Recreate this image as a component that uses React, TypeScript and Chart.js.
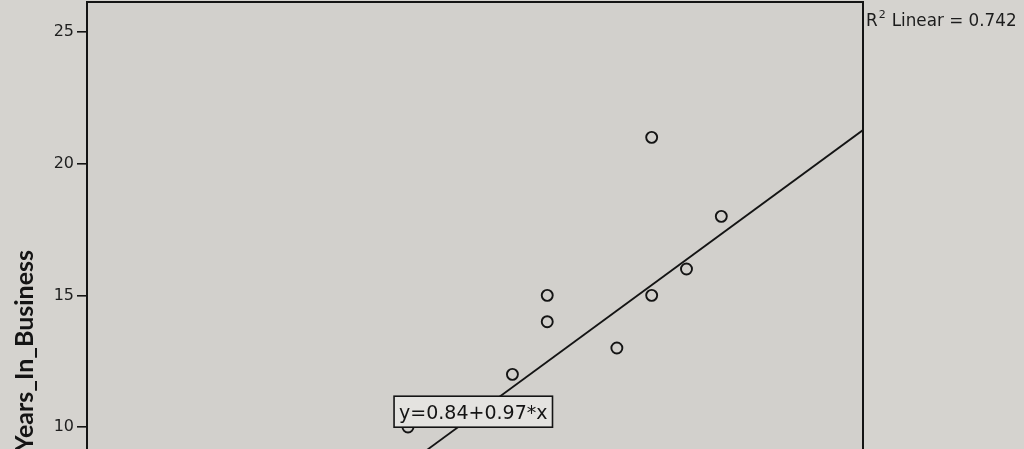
import React, { useEffect, useRef } from "react";
import { Chart, registerables } from "chart.js";

Chart.register(...registerables);

// Observed points (x, Years_In_Business)
const xValues = [8, 11, 12, 12, 14, 15, 15, 16, 17];
const yValues = [10, 12, 14, 15, 13, 15, 21, 16, 18];

// Linear fit shown on the chart
const intercept = 0.84;
const slope = 0.97;
const equationLabel = "y=0.84+0.97*x";
const r2Label = "Linear = 0.742";

const yTickValues = [10, 15, 20, 25];
const yAxisTitle = "Years_In_Business";

const X_MIN = -1.22;
const X_MAX = 21.07;
const Y_MIN = 9.165;
const Y_MAX = 26.14;

const PAGE_BG = "#d5d3cf";
const PLOT_BG = "#d2d0cc";
const INK = "#141414";

const decorPlugin = {
  id: "decor",
  beforeDraw(chart: any) {
    const { ctx, chartArea, width, height } = chart;
    ctx.save();
    ctx.fillStyle = PAGE_BG;
    ctx.fillRect(0, 0, width, height);
    ctx.fillStyle = PLOT_BG;
    ctx.fillRect(chartArea.left, chartArea.top, chartArea.right - chartArea.left, chartArea.bottom - chartArea.top);
    ctx.restore();
  },
  afterDatasetsDraw(chart: any) {
    const { ctx, chartArea, scales } = chart;
    ctx.save();
    // top and right frame
    ctx.strokeStyle = INK;
    ctx.lineWidth = 2;
    ctx.beginPath();
    ctx.moveTo(chartArea.left, chartArea.top);
    ctx.lineTo(chartArea.right, chartArea.top);
    ctx.lineTo(chartArea.right, chartArea.bottom);
    ctx.stroke();

    // equation box anchored in data space
    const bx = scales.x.getPixelForValue(7.6);
    const by = scales.y.getPixelForValue(11.17);
    ctx.font = "19px 'DejaVu Sans'";
    const tw = ctx.measureText(equationLabel).width;
    const bw = tw + 10;
    const bh = 31;
    ctx.fillStyle = "#e4e3e0";
    ctx.fillRect(bx, by, bw, bh);
    ctx.lineWidth = 1.6;
    ctx.strokeStyle = INK;
    ctx.strokeRect(bx, by, bw, bh);
    ctx.fillStyle = INK;
    ctx.textBaseline = "alphabetic";
    ctx.textAlign = "left";
    ctx.fillText(equationLabel, bx + 5, by + 23);

    // R² legend text
    const rx = chartArea.right + 3;
    const ry = 26;
    ctx.font = "16.8px 'DejaVu Sans'";
    ctx.fillStyle = "#1c1c1c";
    ctx.fillText("R", rx, ry);
    const rw = ctx.measureText("R").width;
    ctx.font = "11px 'DejaVu Sans'";
    ctx.fillText("2", rx + rw + 1, ry - 8);
    ctx.font = "16.8px 'DejaVu Sans'";
    ctx.fillText(r2Label, rx + rw + 14, ry);

    // y-axis title (partially off-canvas, as in the reference)
    ctx.translate(33, 250);
    ctx.rotate(-Math.PI / 2);
    ctx.font = "bold 25px Lato";
    ctx.textAlign = "right";
    ctx.fillStyle = "#141414";
    ctx.fillText(yAxisTitle, 0, 0);
    ctx.restore();
  },
};

export default function App() {
  const ref = useRef<HTMLCanvasElement | null>(null);
  useEffect(() => {
    if (!ref.current) return;
    const points = xValues.map((x, i) => ({ x, y: yValues[i] }));
    const fit = [X_MIN, X_MAX].map((x) => ({ x, y: intercept + slope * x }));
    const chart = new Chart(ref.current, {
      type: "scatter",
      data: {
        datasets: [
          {
            type: "line",
            data: fit,
            borderColor: INK,
            borderWidth: 1.8,
            pointRadius: 0,
            fill: false,
          } as any,
          {
            data: points,
            pointRadius: 5.5,
            pointBorderWidth: 1.9,
            pointBorderColor: INK,
            pointBackgroundColor: "rgba(0,0,0,0)",
          },
        ],
      },
      options: {
        animation: false,
        responsive: true,
        maintainAspectRatio: false,
        layout: { autoPadding: false, padding: { left: 0, right: 161, top: 2, bottom: 0 } },
        plugins: { legend: { display: false }, tooltip: { enabled: false } },
        scales: {
          x: { type: "linear", min: X_MIN, max: X_MAX, display: false },
          y: {
            type: "linear",
            min: Y_MIN,
            max: Y_MAX,
            afterBuildTicks: (scale: any) => {
              scale.ticks = yTickValues.map((v) => ({ value: v }));
            },
            afterFit: (scale: any) => {
              scale.width = 87;
              scale.paddingTop = 0;
              scale.paddingBottom = 0;
            },
            ticks: {
              color: "#1e1e1e",
              font: { family: "'DejaVu Sans'", size: 16 },
              padding: 3,
            },
            grid: {
              display: true,
              drawOnChartArea: false,
              drawTicks: true,
              tickLength: 10,
              color: INK,
              lineWidth: 1.6,
            },
            border: { display: true, color: INK, width: 2 },
          },
        },
      },
      plugins: [decorPlugin],
    });
    return () => chart.destroy();
  }, []);
  return (
    <div style={{ position: "fixed", left: 0, top: 0, width: 1024, height: 449, background: PAGE_BG }}>
      <canvas ref={ref} />
    </div>
  );
}
